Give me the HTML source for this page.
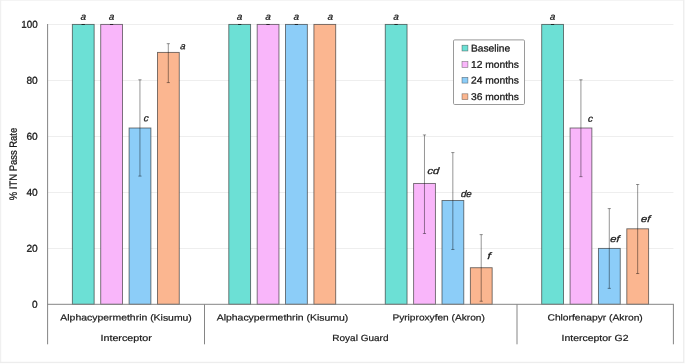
<!DOCTYPE html>
<html><head><meta charset="utf-8"><title>ITN Pass Rate</title>
<style>
html,body{margin:0;padding:0;background:#fff;}
svg{display:block;}
.t{font-family:"Liberation Sans",sans-serif;font-size:8.9px;fill:#1a1a1a;stroke:#1a1a1a;stroke-width:0.2px;}
.big{font-size:10px;stroke-width:0.3px;}
.yt{font-size:10.5px;stroke-width:0.3px;}
.leg{font-size:9.7px;stroke-width:0.28px;}
.i{font-style:italic;font-size:9.5px;stroke-width:0.3px;}
</style></head><body>
<svg width="685" height="364" viewBox="0 0 685 364">
<rect x="0" y="0" width="685" height="364" fill="#fff"/>
<rect x="0" y="0" width="685" height="1" fill="#f4f4f4"/>
<rect x="0" y="0" width="1.2" height="363" fill="#f0f0f0"/>
<rect x="683" y="0" width="1" height="363" fill="#eeeeee"/>
<rect x="684" y="0" width="1" height="364" fill="#f7f7f7"/>
<rect x="0" y="361.8" width="684" height="1.1" fill="#ebebeb"/>
<rect x="0" y="363" width="685" height="1" fill="#fdfdfd"/>
<line x1="47.6" x2="673.4" y1="248.50" y2="248.50" stroke="#eeeeee" stroke-width="1"/>
<line x1="47.6" x2="673.4" y1="192.50" y2="192.50" stroke="#eeeeee" stroke-width="1"/>
<line x1="47.6" x2="673.4" y1="136.50" y2="136.50" stroke="#eeeeee" stroke-width="1"/>
<line x1="47.6" x2="673.4" y1="80.50" y2="80.50" stroke="#eeeeee" stroke-width="1"/>
<line x1="47.6" x2="673.4" y1="24.50" y2="24.50" stroke="#eeeeee" stroke-width="1"/>
<rect x="72.35" y="24.40" width="21.80" height="279.90" fill="#6CE0D5" stroke="#2b2b2b" stroke-opacity="0.68" stroke-width="0.9"/>
<rect x="100.72" y="24.40" width="21.80" height="279.90" fill="#F9B6FA" stroke="#2b2b2b" stroke-opacity="0.68" stroke-width="0.9"/>
<rect x="129.09" y="128.00" width="21.80" height="176.30" fill="#8CCDF8" stroke="#2b2b2b" stroke-opacity="0.68" stroke-width="0.9"/>
<rect x="157.46" y="52.40" width="21.80" height="251.90" fill="#FBB690" stroke="#2b2b2b" stroke-opacity="0.68" stroke-width="0.9"/>
<rect x="228.80" y="24.40" width="21.80" height="279.90" fill="#6CE0D5" stroke="#2b2b2b" stroke-opacity="0.68" stroke-width="0.9"/>
<rect x="257.17" y="24.40" width="21.80" height="279.90" fill="#F9B6FA" stroke="#2b2b2b" stroke-opacity="0.68" stroke-width="0.9"/>
<rect x="285.54" y="24.40" width="21.80" height="279.90" fill="#8CCDF8" stroke="#2b2b2b" stroke-opacity="0.68" stroke-width="0.9"/>
<rect x="313.91" y="24.40" width="21.80" height="279.90" fill="#FBB690" stroke="#2b2b2b" stroke-opacity="0.68" stroke-width="0.9"/>
<rect x="385.25" y="24.40" width="21.80" height="279.90" fill="#6CE0D5" stroke="#2b2b2b" stroke-opacity="0.68" stroke-width="0.9"/>
<rect x="413.62" y="183.44" width="21.80" height="120.86" fill="#F9B6FA" stroke="#2b2b2b" stroke-opacity="0.68" stroke-width="0.9"/>
<rect x="441.99" y="200.52" width="21.80" height="103.78" fill="#8CCDF8" stroke="#2b2b2b" stroke-opacity="0.68" stroke-width="0.9"/>
<rect x="470.36" y="267.72" width="21.80" height="36.58" fill="#FBB690" stroke="#2b2b2b" stroke-opacity="0.68" stroke-width="0.9"/>
<rect x="541.70" y="24.40" width="21.80" height="279.90" fill="#6CE0D5" stroke="#2b2b2b" stroke-opacity="0.68" stroke-width="0.9"/>
<rect x="570.07" y="128.00" width="21.80" height="176.30" fill="#F9B6FA" stroke="#2b2b2b" stroke-opacity="0.68" stroke-width="0.9"/>
<rect x="598.44" y="248.40" width="21.80" height="55.90" fill="#8CCDF8" stroke="#2b2b2b" stroke-opacity="0.68" stroke-width="0.9"/>
<rect x="626.81" y="228.80" width="21.80" height="75.50" fill="#FBB690" stroke="#2b2b2b" stroke-opacity="0.68" stroke-width="0.9"/>
<path d="M83.20 24.50V24.50M81.60 24.50h3.2M81.60 24.50h3.2" stroke="#000" stroke-opacity="0.6" stroke-width="0.7" fill="none"/>
<path d="M111.57 24.50V24.50M109.97 24.50h3.2M109.97 24.50h3.2" stroke="#000" stroke-opacity="0.6" stroke-width="0.7" fill="none"/>
<path d="M139.94 176.10V79.78M138.34 176.10h3.2M138.34 79.78h3.2" stroke="#000" stroke-opacity="0.6" stroke-width="0.7" fill="none"/>
<path d="M168.31 82.58V43.66M166.71 82.58h3.2M166.71 43.66h3.2" stroke="#000" stroke-opacity="0.6" stroke-width="0.7" fill="none"/>
<path d="M239.65 24.50V24.50M238.05 24.50h3.2M238.05 24.50h3.2" stroke="#000" stroke-opacity="0.6" stroke-width="0.7" fill="none"/>
<path d="M268.02 24.50V24.50M266.42 24.50h3.2M266.42 24.50h3.2" stroke="#000" stroke-opacity="0.6" stroke-width="0.7" fill="none"/>
<path d="M296.39 24.50V24.50M294.79 24.50h3.2M294.79 24.50h3.2" stroke="#000" stroke-opacity="0.6" stroke-width="0.7" fill="none"/>
<path d="M396.10 24.50V24.50M394.50 24.50h3.2M394.50 24.50h3.2" stroke="#000" stroke-opacity="0.6" stroke-width="0.7" fill="none"/>
<path d="M424.47 233.50V134.94M422.87 233.50h3.2M422.87 134.94h3.2" stroke="#000" stroke-opacity="0.6" stroke-width="0.7" fill="none"/>
<path d="M452.84 249.46V152.58M451.24 249.46h3.2M451.24 152.58h3.2" stroke="#000" stroke-opacity="0.6" stroke-width="0.7" fill="none"/>
<path d="M481.21 301.26V234.62M479.61 301.26h3.2M479.61 234.62h3.2" stroke="#000" stroke-opacity="0.6" stroke-width="0.7" fill="none"/>
<path d="M552.55 24.50V24.50M550.95 24.50h3.2M550.95 24.50h3.2" stroke="#000" stroke-opacity="0.6" stroke-width="0.7" fill="none"/>
<path d="M580.92 176.66V79.78M579.32 176.66h3.2M579.32 79.78h3.2" stroke="#000" stroke-opacity="0.6" stroke-width="0.7" fill="none"/>
<path d="M609.29 288.38V208.58M607.69 288.38h3.2M607.69 208.58h3.2" stroke="#000" stroke-opacity="0.6" stroke-width="0.7" fill="none"/>
<path d="M637.66 273.54V184.50M636.06 273.54h3.2M636.06 184.50h3.2" stroke="#000" stroke-opacity="0.6" stroke-width="0.7" fill="none"/>
<line x1="47.1" x2="673.9" y1="304.3" y2="304.3" stroke="#858585" stroke-width="1"/>
<line x1="47.6" x2="47.6" y1="24.00" y2="344.3" stroke="#858585" stroke-width="1"/>
<line x1="204.50" x2="204.50" y1="304.3" y2="344.3" stroke="#858585" stroke-width="1"/>
<line x1="517.00" x2="517.00" y1="304.3" y2="344.3" stroke="#858585" stroke-width="1"/>
<line x1="673.40" x2="673.40" y1="304.3" y2="344.3" stroke="#858585" stroke-width="1"/>
<text transform="translate(37.70,307.75) rotate(0.04)" text-anchor="end" class="t big" textLength="5.6" lengthAdjust="spacingAndGlyphs">0</text>
<text transform="translate(37.70,251.75) rotate(0.04)" text-anchor="end" class="t big" textLength="11.3" lengthAdjust="spacingAndGlyphs">20</text>
<text transform="translate(37.70,195.75) rotate(0.04)" text-anchor="end" class="t big" textLength="11.3" lengthAdjust="spacingAndGlyphs">40</text>
<text transform="translate(37.70,139.75) rotate(0.04)" text-anchor="end" class="t big" textLength="11.3" lengthAdjust="spacingAndGlyphs">60</text>
<text transform="translate(37.70,83.75) rotate(0.04)" text-anchor="end" class="t big" textLength="11.3" lengthAdjust="spacingAndGlyphs">80</text>
<text transform="translate(37.70,27.75) rotate(0.04)" text-anchor="end" class="t big" textLength="16.4" lengthAdjust="spacingAndGlyphs">100</text>
<text transform="translate(16.7,164.0) rotate(-89.96)" text-anchor="middle" class="t yt" textLength="72.5" lengthAdjust="spacingAndGlyphs">% ITN Pass Rate</text>
<text transform="translate(126.10,320.60) rotate(0.04)" text-anchor="middle" class="t" textLength="131.5" lengthAdjust="spacingAndGlyphs">Alphacypermethrin (Kisumu)</text>
<text transform="translate(282.50,320.60) rotate(0.04)" text-anchor="middle" class="t" textLength="131.6" lengthAdjust="spacingAndGlyphs">Alphacypermethrin (Kisumu)</text>
<text transform="translate(438.60,320.60) rotate(0.04)" text-anchor="middle" class="t" textLength="92.4" lengthAdjust="spacingAndGlyphs">Pyriproxyfen (Akron)</text>
<text transform="translate(595.10,320.60) rotate(0.04)" text-anchor="middle" class="t" textLength="95.3" lengthAdjust="spacingAndGlyphs">Chlorfenapyr (Akron)</text>
<text transform="translate(126.10,340.90) rotate(0.04)" text-anchor="middle" class="t" textLength="51.3" lengthAdjust="spacingAndGlyphs">Interceptor</text>
<text transform="translate(360.40,340.90) rotate(0.04)" text-anchor="middle" class="t" textLength="56.2" lengthAdjust="spacingAndGlyphs">Royal Guard</text>
<text transform="translate(595.00,340.90) rotate(0.04)" text-anchor="middle" class="t" textLength="67.0" lengthAdjust="spacingAndGlyphs">Interceptor G2</text>
<text transform="translate(83.05,19.80) rotate(0.04) skewX(-5)" text-anchor="middle" class="t i" textLength="5.3" lengthAdjust="spacingAndGlyphs">a</text>
<text transform="translate(111.42,19.80) rotate(0.04) skewX(-5)" text-anchor="middle" class="t i" textLength="5.3" lengthAdjust="spacingAndGlyphs">a</text>
<text transform="translate(239.50,19.80) rotate(0.04) skewX(-5)" text-anchor="middle" class="t i" textLength="5.3" lengthAdjust="spacingAndGlyphs">a</text>
<text transform="translate(267.87,19.80) rotate(0.04) skewX(-5)" text-anchor="middle" class="t i" textLength="5.3" lengthAdjust="spacingAndGlyphs">a</text>
<text transform="translate(296.24,19.80) rotate(0.04) skewX(-5)" text-anchor="middle" class="t i" textLength="5.3" lengthAdjust="spacingAndGlyphs">a</text>
<text transform="translate(330.21,19.80) rotate(0.04) skewX(-5)" text-anchor="middle" class="t i" textLength="5.3" lengthAdjust="spacingAndGlyphs">a</text>
<text transform="translate(395.95,19.80) rotate(0.04) skewX(-5)" text-anchor="middle" class="t i" textLength="5.3" lengthAdjust="spacingAndGlyphs">a</text>
<text transform="translate(552.40,19.80) rotate(0.04) skewX(-5)" text-anchor="middle" class="t i" textLength="5.3" lengthAdjust="spacingAndGlyphs">a</text>
<text transform="translate(179.90,49.20) rotate(0.04) skewX(-5)" text-anchor="start" class="t i" textLength="5.3" lengthAdjust="spacingAndGlyphs">a</text>
<text transform="translate(143.50,121.20) rotate(0.04) skewX(-5)" text-anchor="start" class="t i" textLength="4.9" lengthAdjust="spacingAndGlyphs">c</text>
<text transform="translate(427.20,174.00) rotate(0.04) skewX(-5)" text-anchor="start" class="t i" textLength="11.8" lengthAdjust="spacingAndGlyphs">cd</text>
<text transform="translate(460.70,197.00) rotate(0.04) skewX(-5)" text-anchor="start" class="t i" textLength="10.8" lengthAdjust="spacingAndGlyphs">de</text>
<text transform="translate(487.20,259.00) rotate(0.04) skewX(-5)" text-anchor="start" class="t i" textLength="3.3" lengthAdjust="spacingAndGlyphs">f</text>
<text transform="translate(587.70,121.80) rotate(0.04) skewX(-5)" text-anchor="start" class="t i" textLength="4.9" lengthAdjust="spacingAndGlyphs">c</text>
<text transform="translate(610.00,241.90) rotate(0.04) skewX(-5)" text-anchor="start" class="t i" textLength="9.4" lengthAdjust="spacingAndGlyphs">ef</text>
<text transform="translate(640.80,222.00) rotate(0.04) skewX(-5)" text-anchor="start" class="t i" textLength="9.4" lengthAdjust="spacingAndGlyphs">ef</text>
<rect x="453.5" y="39.9" width="71" height="64.6" rx="1.2" fill="#fff" stroke="#9a9a9a" stroke-width="1"/>
<rect x="462.0" y="45.20" width="5.9" height="5.8" fill="#6CE0D5" stroke="#2b2b2b" stroke-opacity="0.6" stroke-width="0.6"/>
<text transform="translate(471.00,51.40) rotate(0.04)" text-anchor="start" class="t leg" textLength="39.2" lengthAdjust="spacingAndGlyphs">Baseline</text>
<rect x="462.0" y="61.60" width="5.9" height="5.8" fill="#F9B6FA" stroke="#2b2b2b" stroke-opacity="0.6" stroke-width="0.6"/>
<text transform="translate(471.00,67.80) rotate(0.04)" text-anchor="start" class="t leg" textLength="47.9" lengthAdjust="spacingAndGlyphs">12 months</text>
<rect x="462.0" y="77.30" width="5.9" height="5.8" fill="#8CCDF8" stroke="#2b2b2b" stroke-opacity="0.6" stroke-width="0.6"/>
<text transform="translate(471.00,83.50) rotate(0.04)" text-anchor="start" class="t leg" textLength="47.9" lengthAdjust="spacingAndGlyphs">24 months</text>
<rect x="462.0" y="93.80" width="5.9" height="5.8" fill="#FBB690" stroke="#2b2b2b" stroke-opacity="0.6" stroke-width="0.6"/>
<text transform="translate(471.00,100.00) rotate(0.04)" text-anchor="start" class="t leg" textLength="47.9" lengthAdjust="spacingAndGlyphs">36 months</text>
</svg>
</body></html>
